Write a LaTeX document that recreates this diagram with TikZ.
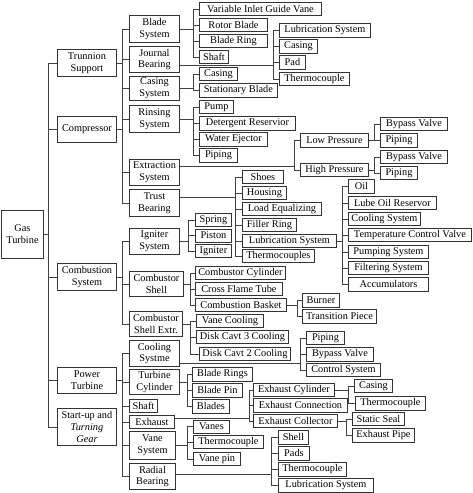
\documentclass[tikz,border=0pt]{standalone}
\usepackage{fontspec}
\setmainfont{Liberation Serif}
\tikzset{
 box/.style={draw=black!80, line width=0.9pt, inner sep=0pt, anchor=north west, align=center, fill=white, font=\fontsize{10.3}{11.8}\selectfont},
 ln/.style={draw=black!75, line width=0.8pt},
}
\newcommand\B[6]{\node[box, minimum width={(#4-#2)*1pt}, minimum height={(#5-#3)*1pt}] (#1) at (#2,#3) {#6};}
\newcommand\fan[3]{\draw[ln] (#1) -- (#1 -| #2,0);
 \foreach \c in {#3}{\draw[ln] (#1 -| #2,0) |- (\c.west);}}
\begin{document}
\begin{tikzpicture}[x=1pt,y=-1pt]
\useasboundingbox (0,0) rectangle (472,493);
% level 0 and 1
\B{GT}{1}{210}{43}{258}{Gas\\Turbine}
\B{TS}{57}{49}{116}{76}{Trunnion\\Support}
\B{CO}{57}{116}{116}{142}{Compressor}
\B{CS}{57}{263}{116}{290}{Combustion\\System}
\B{PT}{57}{367}{116}{393}{Power\\Turbine}
\B{SU}{57}{408}{116}{445}{Start-up and\\\textit{Turning}\\\textit{Gear}}
% level 2
\B{BS}{129}{15}{179}{42}{Blade\\System}
\B{JB}{129}{46}{179}{72}{Journal\\Bearing}
\B{CaS}{129}{76}{179}{100}{Casing\\System}
\B{RS}{129}{105}{179}{132}{Rinsing\\System}
\B{ES}{129}{159}{179}{185}{Extraction\\System}
\B{TB}{129}{189}{179}{216}{Trust\\Bearing}
\B{IS}{129}{228}{179}{254}{Igniter\\System}
\B{CSh}{129}{271}{183}{296}{Combustor\\Shell}
\B{CSE}{129}{311}{182}{336}{Combustor\\Shell Extr.}
\B{CoS}{129}{340}{179}{366}{Cooling\\Systme}
\B{TC}{129}{369}{179}{394}{Turbine\\Cylinder}
\B{Sh}{129}{399}{157}{412}{Shaft}
\B{Ex}{129}{415}{174}{428}{Exhaust}
\B{VS}{129}{431}{175}{459}{Vane\\System}
\B{RB}{129}{463}{175}{489}{Radial\\Bearing}
% blade system
\B{VIGV}{199}{2}{321}{15}{Variable Inlet Guide Vane}
\B{RoB}{199}{18}{267}{31}{Rotor Blade}
\B{BR}{199}{34}{267}{47}{Blade Ring}
\B{ShB}{199}{50}{228}{63}{Shaft}
% journal bearing
\B{LS1}{279}{23}{370}{37}{Lubrication System}
\B{Ca1}{279}{39}{317}{53}{Casing}
\B{Pad}{279}{55}{305}{69}{Pad}
\B{Th1}{279}{72}{349}{85}{Thermocouple}
% casing system
\B{Ca2}{199}{67}{237}{80}{Casing}
\B{SB}{199}{83}{277}{97}{Stationary Blade}
% rinsing
\B{Pump}{199}{100}{233}{113}{Pump}
\B{DR}{199}{116}{295}{130}{Detergent Reservior}
\B{WE}{199}{132}{267}{146}{Water Ejector}
\B{Pi1}{199}{148}{237}{162}{Piping}
% extraction
\B{LP}{300}{133}{368}{147}{Low Pressure}
\B{HP}{300}{163}{368}{176}{High Pressure}
\B{BV1}{380}{117}{447}{130}{Bypass Valve}
\B{Pi2}{380}{133}{417}{147}{Piping}
\B{BV2}{380}{150}{447}{163}{Bypass Valve}
\B{Pi3}{380}{166}{417}{179}{Piping}
% trust bearing
\B{Shoes}{242}{170}{283}{183}{Shoes}
\B{Housing}{242}{186}{286}{199}{Housing}
\B{LE}{242}{202}{321}{215}{Load Equalizing}
\B{FR}{242}{218}{296}{231}{Filler Ring}
\B{LS2}{242}{234}{336}{247}{Lubrication System}
\B{Thc}{242}{249}{314}{262}{Thermocouples}
% lubrication system
\B{Oil}{348}{179}{374}{193}{Oil}
\B{LOR}{348}{196}{436}{209}{Lube Oil Reservor}
\B{CoolSys}{348}{212}{420}{225}{Cooling System}
\B{TCV}{348}{228}{471}{241}{Temperature Control Valve}
\B{PS}{348}{245}{428}{258}{Pumping System}
\B{FS}{348}{261}{428}{274}{Filtering System}
\B{Acc}{348}{277}{428}{291}{Accumulators}
% igniter system
\B{Spring}{195}{213}{231}{226}{Spring}
\B{Piston}{195}{228.5}{231}{241.5}{Piston}
\B{Ign}{195}{244}{231}{257}{Igniter}
% combustor shell
\B{CC}{195}{266}{285}{279}{Combustor Cylinder}
\B{CFT}{195}{282}{282}{295}{Cross Flame Tube}
\B{CB}{195}{298}{286}{311}{Combustion Basket}
\B{Burner}{302}{293}{339}{307}{Burner}
\B{TP}{302}{309}{376}{323}{Transition Piece}
% combustor shell extr
\B{VC}{196}{314}{263}{327}{Vane Cooling}
\B{DC3}{196}{330}{288}{343}{Disk Cavt 3 Cooling}
\B{DC2}{199}{347}{290}{360}{Disk Cavt 2 Cooling}
% cooling
\B{Pi4}{306}{331}{344}{344}{Piping}
\B{BV3}{306}{347}{373}{361}{Bypass Valve}
\B{CtS}{306}{363}{380}{376}{Control System}
% turbine cylinder
\B{BRs}{192}{367}{252}{381}{Blade Rings}
\B{BP}{192}{383}{242}{397}{Blade Pin}
\B{Bl}{192}{399}{229}{413}{Blades}
% exhaust
\B{EC}{253}{383}{334}{396}{Exhaust Cylinder}
\B{ECn}{253}{398}{347}{412}{Exhaust Connection}
\B{ECo}{253}{414}{337}{427}{Exhaust Collector}
\B{Ca3}{354}{379}{392}{392}{Casing}
\B{Th3}{355}{396}{425}{410}{Thermocouple}
\B{SS}{352}{412}{404}{425}{Static Seal}
\B{EP}{352}{428}{414}{442}{Exhaust Pipe}
% vane system
\B{Vanes}{193}{419.5}{229}{433}{Vanes}
\B{Th2}{193}{435}{263}{448}{Thermocouple}
\B{VP}{193}{452}{240}{465}{Vane pin}
% radial bearing
\B{Shell}{278}{430}{308}{444}{Shell}
\B{Pads}{278}{446}{309}{460}{Pads}
\B{Th4}{278}{462}{346}{476}{Thermocouple}
\B{LS3}{278}{478}{373}{492}{Lubrication System}
% connectors
\fan{GT.east}{48}{TS,CO,CS,PT,SU}
\fan{TS.east}{122}{BS,JB,CaS,RS,ES,TB}
\draw[ln] (CO.east) -- (CO.east -| 122,0);
\fan{CS.east}{122}{IS,CSh,CSE}
\fan{PT.east}{122}{CoS,TC,Sh,Ex,VS,RB}
\fan{BS.east}{193}{VIGV,RoB,BR,ShB}
\coordinate (jbo) at ([yshift=-6pt]JB.east);
\fan{jbo}{273}{LS1,Ca1,Pad,Th1}
\fan{CaS.east}{193}{Ca2,SB}
\fan{RS.east}{193}{Pump,DR,WE,Pi1}
\coordinate (eso) at ([yshift=6pt]ES.east);
\fan{eso}{294}{LP,HP}
\fan{LP.east}{374}{BV1,Pi2}
\fan{HP.east}{374}{BV2,Pi3}
\coordinate (tbo) at ([yshift=5.5pt]TB.east);
\fan{tbo}{235}{Shoes,Housing,LE,FR,LS2,Thc}
\fan{LS2.east}{342}{Oil,LOR,CoolSys,TCV,PS,FS,Acc}
\fan{IS.east}{188}{Spring,Piston,Ign}
\fan{CSh.east}{190}{CC,CFT,CB}
\fan{CB.east}{297}{Burner,TP}
\fan{CSE.east}{190}{VC,DC3,DC2}
\coordinate (coo) at ([yshift=-10pt]CoS.east);
\fan{coo}{300}{Pi4,BV3,CtS}
\fan{TC.east}{187}{BRs,BP,Bl}
\coordinate (exo) at ([yshift=3.5pt]Ex.east);
\fan{exo}{249}{EC,ECn,ECo}
\fan{EC.east}{348}{Ca3,Th3}
\fan{ECo.east}{346}{SS,EP}
\fan{VS.east}{187}{Vanes,Th2,VP}
\coordinate (rbo) at ([yshift=2.5pt]RB.east);
\fan{rbo}{271}{Shell,Pads,Th4,LS3}
\end{tikzpicture}
\end{document}
